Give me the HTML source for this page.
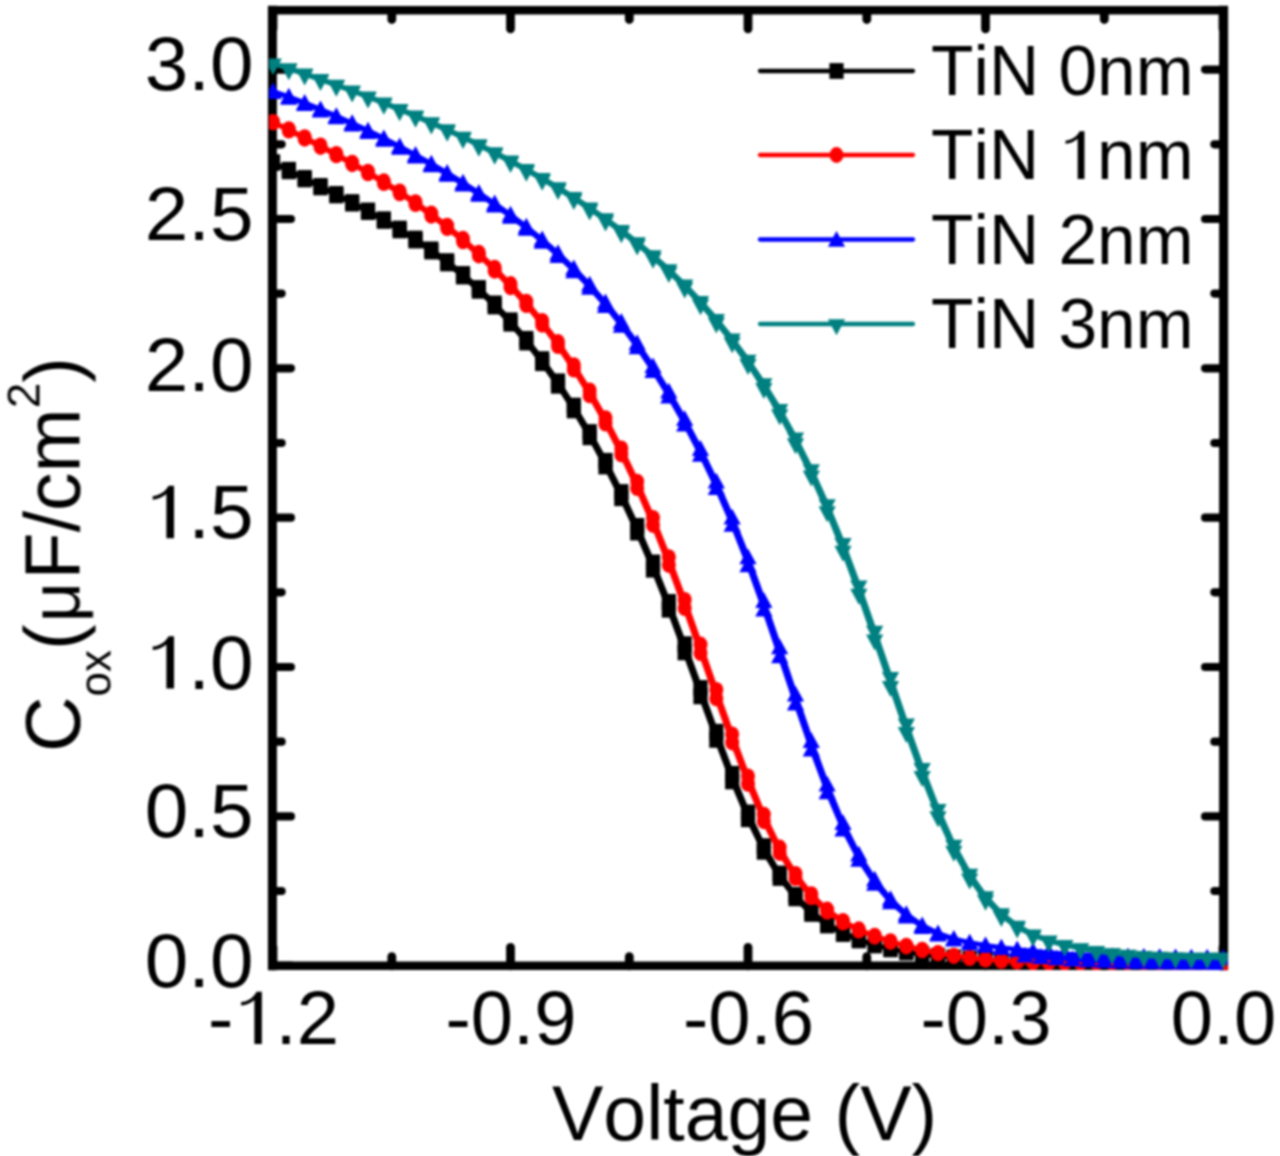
<!DOCTYPE html>
<html><head><meta charset="utf-8"><style>
html,body{margin:0;padding:0;background:#fff;}
svg{display:block;font-family:"Liberation Sans",sans-serif;font-kerning:none;}
text{font-kerning:none;}
</style></head><body>
<svg width="1280" height="1156" viewBox="0 0 1280 1156">
<defs><filter id="bl" x="0" y="0" width="1280" height="1156" filterUnits="userSpaceOnUse" color-interpolation-filters="sRGB"><feGaussianBlur stdDeviation="1.1"/></filter></defs>
<g filter="url(#bl)">
<rect width="1280" height="1156" fill="#fff"/>
<defs><clipPath id="cp"><rect x="269" y="6.5" width="958.5" height="963.5"/></clipPath></defs>
<g stroke="#000" stroke-linecap="square"><line x1="272.4" y1="10.3" x2="1223.6" y2="10.3" stroke-width="8.4"/><line x1="272.4" y1="965.8" x2="1223.6" y2="965.8" stroke-width="8.4"/><line x1="272.4" y1="10.3" x2="272.4" y2="965.8" stroke-width="9.0"/><line x1="1223.6" y1="10.3" x2="1223.6" y2="965.8" stroke-width="9.0"/></g>
<g stroke="#000" stroke-linecap="round"><line x1="272.4" y1="965.7" x2="290.9" y2="965.7" stroke-width="8.2"/><line x1="1223.6" y1="965.7" x2="1205.1" y2="965.7" stroke-width="8.2"/><line x1="272.4" y1="816.4" x2="290.9" y2="816.4" stroke-width="8.2"/><line x1="1223.6" y1="816.4" x2="1205.1" y2="816.4" stroke-width="8.2"/><line x1="272.4" y1="667.0" x2="290.9" y2="667.0" stroke-width="8.2"/><line x1="1223.6" y1="667.0" x2="1205.1" y2="667.0" stroke-width="8.2"/><line x1="272.4" y1="517.7" x2="290.9" y2="517.7" stroke-width="8.2"/><line x1="1223.6" y1="517.7" x2="1205.1" y2="517.7" stroke-width="8.2"/><line x1="272.4" y1="368.3" x2="290.9" y2="368.3" stroke-width="8.2"/><line x1="1223.6" y1="368.3" x2="1205.1" y2="368.3" stroke-width="8.2"/><line x1="272.4" y1="219.0" x2="290.9" y2="219.0" stroke-width="8.2"/><line x1="1223.6" y1="219.0" x2="1205.1" y2="219.0" stroke-width="8.2"/><line x1="272.4" y1="69.6" x2="290.9" y2="69.6" stroke-width="8.2"/><line x1="1223.6" y1="69.6" x2="1205.1" y2="69.6" stroke-width="8.2"/><line x1="272.4" y1="891.0" x2="281.6" y2="891.0" stroke-width="8.2"/><line x1="1223.6" y1="891.0" x2="1214.4" y2="891.0" stroke-width="8.2"/><line x1="272.4" y1="741.7" x2="281.6" y2="741.7" stroke-width="8.2"/><line x1="1223.6" y1="741.7" x2="1214.4" y2="741.7" stroke-width="8.2"/><line x1="272.4" y1="592.3" x2="281.6" y2="592.3" stroke-width="8.2"/><line x1="1223.6" y1="592.3" x2="1214.4" y2="592.3" stroke-width="8.2"/><line x1="272.4" y1="443.0" x2="281.6" y2="443.0" stroke-width="8.2"/><line x1="1223.6" y1="443.0" x2="1214.4" y2="443.0" stroke-width="8.2"/><line x1="272.4" y1="293.6" x2="281.6" y2="293.6" stroke-width="8.2"/><line x1="1223.6" y1="293.6" x2="1214.4" y2="293.6" stroke-width="8.2"/><line x1="272.4" y1="144.3" x2="281.6" y2="144.3" stroke-width="8.2"/><line x1="1223.6" y1="144.3" x2="1214.4" y2="144.3" stroke-width="8.2"/><line x1="273.0" y1="965.8" x2="273.0" y2="947.3" stroke-width="8.8"/><line x1="273.0" y1="10.3" x2="273.0" y2="28.8" stroke-width="8.8"/><line x1="510.5" y1="965.8" x2="510.5" y2="947.3" stroke-width="8.8"/><line x1="510.5" y1="10.3" x2="510.5" y2="28.8" stroke-width="8.8"/><line x1="748.0" y1="965.8" x2="748.0" y2="947.3" stroke-width="8.8"/><line x1="748.0" y1="10.3" x2="748.0" y2="28.8" stroke-width="8.8"/><line x1="985.5" y1="965.8" x2="985.5" y2="947.3" stroke-width="8.8"/><line x1="985.5" y1="10.3" x2="985.5" y2="28.8" stroke-width="8.8"/><line x1="1223.0" y1="965.8" x2="1223.0" y2="947.3" stroke-width="8.8"/><line x1="1223.0" y1="10.3" x2="1223.0" y2="28.8" stroke-width="8.8"/><line x1="391.8" y1="965.8" x2="391.8" y2="956.6" stroke-width="8.8"/><line x1="391.8" y1="10.3" x2="391.8" y2="19.5" stroke-width="8.8"/><line x1="629.3" y1="965.8" x2="629.3" y2="956.6" stroke-width="8.8"/><line x1="629.3" y1="10.3" x2="629.3" y2="19.5" stroke-width="8.8"/><line x1="866.8" y1="965.8" x2="866.8" y2="956.6" stroke-width="8.8"/><line x1="866.8" y1="10.3" x2="866.8" y2="19.5" stroke-width="8.8"/><line x1="1104.3" y1="965.8" x2="1104.3" y2="956.6" stroke-width="8.8"/><line x1="1104.3" y1="10.3" x2="1104.3" y2="19.5" stroke-width="8.8"/></g>
<g><text transform="translate(144.68,986.70) scale(1.03,1)" font-size="76" >0.0</text><text transform="translate(144.68,837.35) scale(1.03,1)" font-size="76" >0.5</text><text transform="translate(144.68,688.50) scale(1.03,1)" font-size="76" > .0</text><path transform="translate(144.68,0) scale(1.03,1) translate(-144.68,0)" d="M165.76 688.50L165.76 644.38C162.49 647.31 157.67 649.54 152.47 649.98L152.47 646.60C159.52 645.82 164.72 642.11 167.91 636.21L173.18 636.21L173.18 688.50Z"/><text transform="translate(144.68,538.15) scale(1.03,1)" font-size="76" > .5</text><path transform="translate(144.68,0) scale(1.03,1) translate(-144.68,0)" d="M165.76 538.15L165.76 494.03C162.49 496.96 157.67 499.19 152.47 499.63L152.47 496.25C159.52 495.47 164.72 491.76 167.91 485.86L173.18 485.86L173.18 538.15Z"/><text transform="translate(144.68,390.80) scale(1.03,1)" font-size="76" >2.0</text><text transform="translate(144.68,240.45) scale(1.03,1)" font-size="76" >2.5</text><text transform="translate(144.68,89.60) scale(1.03,1)" font-size="76" >3.0</text><text x="208.02" y="1044.00" font-size="76" >- .2</text><path d="M254.41 1044.00L254.41 999.88C251.14 1002.81 246.32 1005.04 241.12 1005.48L241.12 1002.10C248.17 1001.32 253.37 997.61 256.56 991.71L261.83 991.71L261.83 1044.00Z"/><text x="445.52" y="1044.00" font-size="76" >-0.9</text><text x="683.02" y="1044.00" font-size="76" >-0.6</text><text x="920.52" y="1044.00" font-size="76" >-0.3</text><text x="1170.68" y="1044.00" font-size="76" >0.0</text></g>
<g clip-path="url(#cp)">
<polyline points="273.00,162.14 288.83,169.76 304.67,177.91 320.50,185.92 336.33,193.92 352.17,202.05 368.00,210.44 383.83,219.23 399.67,228.56 415.50,238.56 431.33,249.37 447.17,261.12 463.00,273.95 478.83,288.00 494.67,303.41 510.50,320.30 526.33,338.83 542.17,359.12 558.00,381.33 573.83,405.58 589.67,432.02 605.50,460.79 621.33,492.02 637.17,525.86 653.00,562.44 668.83,601.90 684.67,644.17 700.50,687.99 716.33,731.73 732.17,773.76 748.00,812.43 763.83,846.11 779.67,873.49 795.50,894.91 811.33,911.29 827.17,923.55 843.00,932.59 858.83,939.33 874.67,944.59 890.50,948.72 906.33,951.89 922.17,954.29 938.00,956.10 953.83,957.51 969.67,958.68 985.50,959.66 1001.33,960.46 1017.17,961.12 1033.00,961.63 1048.83,962.03 1064.66,962.33 1080.50,962.54 1096.33,962.68 1112.16,962.77 1128.00,962.83 1143.83,962.88 1159.66,962.93 1175.50,962.99 1191.33,963.09 1207.16,963.25 1223.00,963.48" fill="none" stroke="#000000" stroke-width="4.3" stroke-linejoin="round"/>
<polyline points="273.00,162.95 288.83,171.32 304.67,179.44 320.50,187.43 336.33,195.45 352.17,203.61 368.00,212.07 383.83,220.95 399.67,230.40 415.50,240.54 431.33,251.52 447.17,263.46 463.00,276.52 478.83,290.81 494.67,306.49 510.50,323.68 526.33,342.53 542.17,363.18 558.00,385.76 573.83,410.42 589.67,437.29 605.50,466.51 621.33,498.23 637.17,532.57 653.00,569.69 668.83,609.72 684.67,652.40 700.50,696.34 716.33,739.88 732.17,781.39 748.00,819.24 763.83,851.80 779.67,877.98 795.50,898.37 811.33,913.91 827.17,925.48 843.00,934.02 858.83,940.42 874.67,945.46 890.50,949.39 906.33,952.40 922.17,954.67 938.00,956.40 953.83,957.75 969.67,958.88 985.50,959.82 1001.33,960.60 1017.17,961.22 1033.00,961.72 1048.83,962.09 1064.66,962.37 1080.50,962.57 1096.33,962.70 1112.16,962.79 1128.00,962.84 1143.83,962.89 1159.66,962.94 1175.50,963.01 1191.33,963.12 1207.16,963.29 1223.00,963.50" fill="none" stroke="#000000" stroke-width="4.3" stroke-linejoin="round"/>
<g fill="#000000"><rect x="265.90" y="154.24" width="14.20" height="15.80"/><rect x="281.73" y="161.86" width="14.20" height="15.80"/><rect x="297.57" y="170.01" width="14.20" height="15.80"/><rect x="313.40" y="178.02" width="14.20" height="15.80"/><rect x="329.23" y="186.02" width="14.20" height="15.80"/><rect x="345.07" y="194.15" width="14.20" height="15.80"/><rect x="360.90" y="202.54" width="14.20" height="15.80"/><rect x="376.73" y="211.33" width="14.20" height="15.80"/><rect x="392.57" y="220.66" width="14.20" height="15.80"/><rect x="408.40" y="230.66" width="14.20" height="15.80"/><rect x="424.23" y="241.47" width="14.20" height="15.80"/><rect x="440.07" y="253.22" width="14.20" height="15.80"/><rect x="455.90" y="266.05" width="14.20" height="15.80"/><rect x="471.73" y="280.10" width="14.20" height="15.80"/><rect x="487.57" y="295.51" width="14.20" height="15.80"/><rect x="503.40" y="312.40" width="14.20" height="15.80"/><rect x="519.23" y="330.93" width="14.20" height="15.80"/><rect x="535.07" y="351.22" width="14.20" height="15.80"/><rect x="550.90" y="373.43" width="14.20" height="15.80"/><rect x="566.73" y="397.68" width="14.20" height="15.80"/><rect x="582.57" y="424.12" width="14.20" height="15.80"/><rect x="598.40" y="452.89" width="14.20" height="15.80"/><rect x="614.23" y="484.12" width="14.20" height="15.80"/><rect x="630.07" y="517.96" width="14.20" height="15.80"/><rect x="645.90" y="554.54" width="14.20" height="15.80"/><rect x="661.73" y="594.00" width="14.20" height="15.80"/><rect x="677.57" y="636.27" width="14.20" height="15.80"/><rect x="693.40" y="680.09" width="14.20" height="15.80"/><rect x="709.23" y="723.83" width="14.20" height="15.80"/><rect x="725.07" y="765.86" width="14.20" height="15.80"/><rect x="740.90" y="804.53" width="14.20" height="15.80"/><rect x="756.73" y="838.21" width="14.20" height="15.80"/><rect x="772.57" y="865.59" width="14.20" height="15.80"/><rect x="788.40" y="887.01" width="14.20" height="15.80"/><rect x="804.23" y="903.39" width="14.20" height="15.80"/><rect x="820.07" y="915.65" width="14.20" height="15.80"/><rect x="835.90" y="924.69" width="14.20" height="15.80"/><rect x="851.73" y="931.43" width="14.20" height="15.80"/><rect x="867.57" y="936.69" width="14.20" height="15.80"/><rect x="883.40" y="940.82" width="14.20" height="15.80"/><rect x="899.23" y="943.99" width="14.20" height="15.80"/><rect x="915.07" y="946.39" width="14.20" height="15.80"/><rect x="930.90" y="948.20" width="14.20" height="15.80"/><rect x="946.73" y="949.61" width="14.20" height="15.80"/><rect x="962.57" y="950.78" width="14.20" height="15.80"/><rect x="978.40" y="951.76" width="14.20" height="15.80"/><rect x="994.23" y="952.56" width="14.20" height="15.80"/><rect x="1010.07" y="953.22" width="14.20" height="15.80"/><rect x="1025.90" y="953.73" width="14.20" height="15.80"/><rect x="1041.73" y="954.13" width="14.20" height="15.80"/><rect x="1057.57" y="954.43" width="14.20" height="15.80"/><rect x="1073.40" y="954.64" width="14.20" height="15.80"/><rect x="1089.23" y="954.78" width="14.20" height="15.80"/><rect x="1105.06" y="954.87" width="14.20" height="15.80"/><rect x="1120.90" y="954.93" width="14.20" height="15.80"/><rect x="1136.73" y="954.98" width="14.20" height="15.80"/><rect x="1152.56" y="955.03" width="14.20" height="15.80"/><rect x="1168.40" y="955.09" width="14.20" height="15.80"/><rect x="1184.23" y="955.19" width="14.20" height="15.80"/><rect x="1200.06" y="955.35" width="14.20" height="15.80"/><rect x="1215.90" y="955.58" width="14.20" height="15.80"/></g>
<g fill="#000000"><rect x="265.90" y="155.05" width="14.20" height="15.80"/><rect x="281.73" y="163.42" width="14.20" height="15.80"/><rect x="297.57" y="171.54" width="14.20" height="15.80"/><rect x="313.40" y="179.53" width="14.20" height="15.80"/><rect x="329.23" y="187.55" width="14.20" height="15.80"/><rect x="345.07" y="195.71" width="14.20" height="15.80"/><rect x="360.90" y="204.17" width="14.20" height="15.80"/><rect x="376.73" y="213.05" width="14.20" height="15.80"/><rect x="392.57" y="222.50" width="14.20" height="15.80"/><rect x="408.40" y="232.64" width="14.20" height="15.80"/><rect x="424.23" y="243.62" width="14.20" height="15.80"/><rect x="440.07" y="255.56" width="14.20" height="15.80"/><rect x="455.90" y="268.62" width="14.20" height="15.80"/><rect x="471.73" y="282.91" width="14.20" height="15.80"/><rect x="487.57" y="298.59" width="14.20" height="15.80"/><rect x="503.40" y="315.78" width="14.20" height="15.80"/><rect x="519.23" y="334.63" width="14.20" height="15.80"/><rect x="535.07" y="355.28" width="14.20" height="15.80"/><rect x="550.90" y="377.86" width="14.20" height="15.80"/><rect x="566.73" y="402.52" width="14.20" height="15.80"/><rect x="582.57" y="429.39" width="14.20" height="15.80"/><rect x="598.40" y="458.61" width="14.20" height="15.80"/><rect x="614.23" y="490.33" width="14.20" height="15.80"/><rect x="630.07" y="524.67" width="14.20" height="15.80"/><rect x="645.90" y="561.79" width="14.20" height="15.80"/><rect x="661.73" y="601.82" width="14.20" height="15.80"/><rect x="677.57" y="644.50" width="14.20" height="15.80"/><rect x="693.40" y="688.44" width="14.20" height="15.80"/><rect x="709.23" y="731.98" width="14.20" height="15.80"/><rect x="725.07" y="773.49" width="14.20" height="15.80"/><rect x="740.90" y="811.34" width="14.20" height="15.80"/><rect x="756.73" y="843.90" width="14.20" height="15.80"/><rect x="772.57" y="870.08" width="14.20" height="15.80"/><rect x="788.40" y="890.47" width="14.20" height="15.80"/><rect x="804.23" y="906.01" width="14.20" height="15.80"/><rect x="820.07" y="917.58" width="14.20" height="15.80"/><rect x="835.90" y="926.12" width="14.20" height="15.80"/><rect x="851.73" y="932.52" width="14.20" height="15.80"/><rect x="867.57" y="937.56" width="14.20" height="15.80"/><rect x="883.40" y="941.49" width="14.20" height="15.80"/><rect x="899.23" y="944.50" width="14.20" height="15.80"/><rect x="915.07" y="946.77" width="14.20" height="15.80"/><rect x="930.90" y="948.50" width="14.20" height="15.80"/><rect x="946.73" y="949.85" width="14.20" height="15.80"/><rect x="962.57" y="950.98" width="14.20" height="15.80"/><rect x="978.40" y="951.92" width="14.20" height="15.80"/><rect x="994.23" y="952.70" width="14.20" height="15.80"/><rect x="1010.07" y="953.32" width="14.20" height="15.80"/><rect x="1025.90" y="953.82" width="14.20" height="15.80"/><rect x="1041.73" y="954.19" width="14.20" height="15.80"/><rect x="1057.57" y="954.47" width="14.20" height="15.80"/><rect x="1073.40" y="954.67" width="14.20" height="15.80"/><rect x="1089.23" y="954.80" width="14.20" height="15.80"/><rect x="1105.06" y="954.89" width="14.20" height="15.80"/><rect x="1120.90" y="954.94" width="14.20" height="15.80"/><rect x="1136.73" y="954.99" width="14.20" height="15.80"/><rect x="1152.56" y="955.04" width="14.20" height="15.80"/><rect x="1168.40" y="955.11" width="14.20" height="15.80"/><rect x="1184.23" y="955.22" width="14.20" height="15.80"/><rect x="1200.06" y="955.39" width="14.20" height="15.80"/><rect x="1215.90" y="955.60" width="14.20" height="15.80"/></g>
<polyline points="273.00,121.85 288.83,129.11 304.67,137.19 320.50,145.41 336.33,153.84 352.17,162.57 368.00,171.68 383.83,181.24 399.67,191.34 415.50,202.07 431.33,213.49 447.17,225.68 463.00,238.74 478.83,252.74 494.67,267.77 510.50,284.01 526.33,301.65 542.17,320.92 558.00,341.99 573.83,365.08 589.67,390.38 605.50,418.10 621.33,448.44 637.17,481.60 653.00,517.78 668.83,557.19 684.67,599.80 700.50,644.52 716.33,689.84 732.17,734.29 748.00,776.37 763.83,814.60 779.67,847.49 795.50,873.86 811.33,894.19 827.17,909.51 843.00,920.85 858.83,929.22 874.67,935.65 890.50,941.05 906.33,945.69 922.17,949.62 938.00,952.90 953.83,955.59 969.67,957.74 985.50,959.40 1001.33,960.65 1017.17,961.53 1033.00,962.09 1048.83,962.40 1064.66,962.51 1080.50,962.48 1096.33,962.37 1112.16,962.22 1128.00,962.10 1143.83,962.07 1159.66,962.18 1175.50,962.48 1191.33,963.04 1207.16,963.90 1223.00,965.14" fill="none" stroke="#ff0000" stroke-width="4.3" stroke-linejoin="round"/>
<polyline points="273.00,122.61 288.83,130.64 304.67,138.73 320.50,146.98 336.33,155.47 352.17,164.26 368.00,173.45 383.83,183.11 399.67,193.33 415.50,204.17 431.33,215.73 447.17,228.09 463.00,241.32 478.83,255.50 494.67,270.74 510.50,287.24 526.33,305.17 542.17,324.76 558.00,346.20 573.83,369.70 589.67,395.44 605.50,423.65 621.33,454.50 637.17,488.22 653.00,525.00 668.83,565.03 684.67,608.16 700.50,653.11 716.33,698.38 732.17,742.49 748.00,783.95 763.83,821.28 779.67,852.99 795.50,878.14 811.33,897.45 827.17,911.94 843.00,922.63 858.83,930.55 874.67,936.73 890.50,941.98 906.33,946.48 922.17,950.29 938.00,953.45 953.83,956.03 969.67,958.09 985.50,959.67 1001.33,960.84 1017.17,961.65 1033.00,962.17 1048.83,962.44 1064.66,962.52 1080.50,962.47 1096.33,962.34 1112.16,962.20 1128.00,962.09 1143.83,962.08 1159.66,962.22 1175.50,962.57 1191.33,963.18 1207.16,964.11 1223.00,965.28" fill="none" stroke="#ff0000" stroke-width="4.3" stroke-linejoin="round"/>
<g fill="#ff0000"><ellipse cx="273.00" cy="121.85" rx="7.0" ry="7.9"/><ellipse cx="288.83" cy="129.11" rx="7.0" ry="7.9"/><ellipse cx="304.67" cy="137.19" rx="7.0" ry="7.9"/><ellipse cx="320.50" cy="145.41" rx="7.0" ry="7.9"/><ellipse cx="336.33" cy="153.84" rx="7.0" ry="7.9"/><ellipse cx="352.17" cy="162.57" rx="7.0" ry="7.9"/><ellipse cx="368.00" cy="171.68" rx="7.0" ry="7.9"/><ellipse cx="383.83" cy="181.24" rx="7.0" ry="7.9"/><ellipse cx="399.67" cy="191.34" rx="7.0" ry="7.9"/><ellipse cx="415.50" cy="202.07" rx="7.0" ry="7.9"/><ellipse cx="431.33" cy="213.49" rx="7.0" ry="7.9"/><ellipse cx="447.17" cy="225.68" rx="7.0" ry="7.9"/><ellipse cx="463.00" cy="238.74" rx="7.0" ry="7.9"/><ellipse cx="478.83" cy="252.74" rx="7.0" ry="7.9"/><ellipse cx="494.67" cy="267.77" rx="7.0" ry="7.9"/><ellipse cx="510.50" cy="284.01" rx="7.0" ry="7.9"/><ellipse cx="526.33" cy="301.65" rx="7.0" ry="7.9"/><ellipse cx="542.17" cy="320.92" rx="7.0" ry="7.9"/><ellipse cx="558.00" cy="341.99" rx="7.0" ry="7.9"/><ellipse cx="573.83" cy="365.08" rx="7.0" ry="7.9"/><ellipse cx="589.67" cy="390.38" rx="7.0" ry="7.9"/><ellipse cx="605.50" cy="418.10" rx="7.0" ry="7.9"/><ellipse cx="621.33" cy="448.44" rx="7.0" ry="7.9"/><ellipse cx="637.17" cy="481.60" rx="7.0" ry="7.9"/><ellipse cx="653.00" cy="517.78" rx="7.0" ry="7.9"/><ellipse cx="668.83" cy="557.19" rx="7.0" ry="7.9"/><ellipse cx="684.67" cy="599.80" rx="7.0" ry="7.9"/><ellipse cx="700.50" cy="644.52" rx="7.0" ry="7.9"/><ellipse cx="716.33" cy="689.84" rx="7.0" ry="7.9"/><ellipse cx="732.17" cy="734.29" rx="7.0" ry="7.9"/><ellipse cx="748.00" cy="776.37" rx="7.0" ry="7.9"/><ellipse cx="763.83" cy="814.60" rx="7.0" ry="7.9"/><ellipse cx="779.67" cy="847.49" rx="7.0" ry="7.9"/><ellipse cx="795.50" cy="873.86" rx="7.0" ry="7.9"/><ellipse cx="811.33" cy="894.19" rx="7.0" ry="7.9"/><ellipse cx="827.17" cy="909.51" rx="7.0" ry="7.9"/><ellipse cx="843.00" cy="920.85" rx="7.0" ry="7.9"/><ellipse cx="858.83" cy="929.22" rx="7.0" ry="7.9"/><ellipse cx="874.67" cy="935.65" rx="7.0" ry="7.9"/><ellipse cx="890.50" cy="941.05" rx="7.0" ry="7.9"/><ellipse cx="906.33" cy="945.69" rx="7.0" ry="7.9"/><ellipse cx="922.17" cy="949.62" rx="7.0" ry="7.9"/><ellipse cx="938.00" cy="952.90" rx="7.0" ry="7.9"/><ellipse cx="953.83" cy="955.59" rx="7.0" ry="7.9"/><ellipse cx="969.67" cy="957.74" rx="7.0" ry="7.9"/><ellipse cx="985.50" cy="959.40" rx="7.0" ry="7.9"/><ellipse cx="1001.33" cy="960.65" rx="7.0" ry="7.9"/><ellipse cx="1017.17" cy="961.53" rx="7.0" ry="7.9"/><ellipse cx="1033.00" cy="962.09" rx="7.0" ry="7.9"/><ellipse cx="1048.83" cy="962.40" rx="7.0" ry="7.9"/><ellipse cx="1064.66" cy="962.51" rx="7.0" ry="7.9"/><ellipse cx="1080.50" cy="962.48" rx="7.0" ry="7.9"/><ellipse cx="1096.33" cy="962.37" rx="7.0" ry="7.9"/><ellipse cx="1112.16" cy="962.22" rx="7.0" ry="7.9"/><ellipse cx="1128.00" cy="962.10" rx="7.0" ry="7.9"/><ellipse cx="1143.83" cy="962.07" rx="7.0" ry="7.9"/><ellipse cx="1159.66" cy="962.18" rx="7.0" ry="7.9"/><ellipse cx="1175.50" cy="962.48" rx="7.0" ry="7.9"/><ellipse cx="1191.33" cy="963.04" rx="7.0" ry="7.9"/><ellipse cx="1207.16" cy="963.90" rx="7.0" ry="7.9"/><ellipse cx="1223.00" cy="965.14" rx="7.0" ry="7.9"/></g>
<g fill="#ff0000"><ellipse cx="273.00" cy="122.61" rx="7.0" ry="7.9"/><ellipse cx="288.83" cy="130.64" rx="7.0" ry="7.9"/><ellipse cx="304.67" cy="138.73" rx="7.0" ry="7.9"/><ellipse cx="320.50" cy="146.98" rx="7.0" ry="7.9"/><ellipse cx="336.33" cy="155.47" rx="7.0" ry="7.9"/><ellipse cx="352.17" cy="164.26" rx="7.0" ry="7.9"/><ellipse cx="368.00" cy="173.45" rx="7.0" ry="7.9"/><ellipse cx="383.83" cy="183.11" rx="7.0" ry="7.9"/><ellipse cx="399.67" cy="193.33" rx="7.0" ry="7.9"/><ellipse cx="415.50" cy="204.17" rx="7.0" ry="7.9"/><ellipse cx="431.33" cy="215.73" rx="7.0" ry="7.9"/><ellipse cx="447.17" cy="228.09" rx="7.0" ry="7.9"/><ellipse cx="463.00" cy="241.32" rx="7.0" ry="7.9"/><ellipse cx="478.83" cy="255.50" rx="7.0" ry="7.9"/><ellipse cx="494.67" cy="270.74" rx="7.0" ry="7.9"/><ellipse cx="510.50" cy="287.24" rx="7.0" ry="7.9"/><ellipse cx="526.33" cy="305.17" rx="7.0" ry="7.9"/><ellipse cx="542.17" cy="324.76" rx="7.0" ry="7.9"/><ellipse cx="558.00" cy="346.20" rx="7.0" ry="7.9"/><ellipse cx="573.83" cy="369.70" rx="7.0" ry="7.9"/><ellipse cx="589.67" cy="395.44" rx="7.0" ry="7.9"/><ellipse cx="605.50" cy="423.65" rx="7.0" ry="7.9"/><ellipse cx="621.33" cy="454.50" rx="7.0" ry="7.9"/><ellipse cx="637.17" cy="488.22" rx="7.0" ry="7.9"/><ellipse cx="653.00" cy="525.00" rx="7.0" ry="7.9"/><ellipse cx="668.83" cy="565.03" rx="7.0" ry="7.9"/><ellipse cx="684.67" cy="608.16" rx="7.0" ry="7.9"/><ellipse cx="700.50" cy="653.11" rx="7.0" ry="7.9"/><ellipse cx="716.33" cy="698.38" rx="7.0" ry="7.9"/><ellipse cx="732.17" cy="742.49" rx="7.0" ry="7.9"/><ellipse cx="748.00" cy="783.95" rx="7.0" ry="7.9"/><ellipse cx="763.83" cy="821.28" rx="7.0" ry="7.9"/><ellipse cx="779.67" cy="852.99" rx="7.0" ry="7.9"/><ellipse cx="795.50" cy="878.14" rx="7.0" ry="7.9"/><ellipse cx="811.33" cy="897.45" rx="7.0" ry="7.9"/><ellipse cx="827.17" cy="911.94" rx="7.0" ry="7.9"/><ellipse cx="843.00" cy="922.63" rx="7.0" ry="7.9"/><ellipse cx="858.83" cy="930.55" rx="7.0" ry="7.9"/><ellipse cx="874.67" cy="936.73" rx="7.0" ry="7.9"/><ellipse cx="890.50" cy="941.98" rx="7.0" ry="7.9"/><ellipse cx="906.33" cy="946.48" rx="7.0" ry="7.9"/><ellipse cx="922.17" cy="950.29" rx="7.0" ry="7.9"/><ellipse cx="938.00" cy="953.45" rx="7.0" ry="7.9"/><ellipse cx="953.83" cy="956.03" rx="7.0" ry="7.9"/><ellipse cx="969.67" cy="958.09" rx="7.0" ry="7.9"/><ellipse cx="985.50" cy="959.67" rx="7.0" ry="7.9"/><ellipse cx="1001.33" cy="960.84" rx="7.0" ry="7.9"/><ellipse cx="1017.17" cy="961.65" rx="7.0" ry="7.9"/><ellipse cx="1033.00" cy="962.17" rx="7.0" ry="7.9"/><ellipse cx="1048.83" cy="962.44" rx="7.0" ry="7.9"/><ellipse cx="1064.66" cy="962.52" rx="7.0" ry="7.9"/><ellipse cx="1080.50" cy="962.47" rx="7.0" ry="7.9"/><ellipse cx="1096.33" cy="962.34" rx="7.0" ry="7.9"/><ellipse cx="1112.16" cy="962.20" rx="7.0" ry="7.9"/><ellipse cx="1128.00" cy="962.09" rx="7.0" ry="7.9"/><ellipse cx="1143.83" cy="962.08" rx="7.0" ry="7.9"/><ellipse cx="1159.66" cy="962.22" rx="7.0" ry="7.9"/><ellipse cx="1175.50" cy="962.57" rx="7.0" ry="7.9"/><ellipse cx="1191.33" cy="963.18" rx="7.0" ry="7.9"/><ellipse cx="1207.16" cy="964.11" rx="7.0" ry="7.9"/><ellipse cx="1223.00" cy="965.28" rx="7.0" ry="7.9"/></g>
<polyline points="273.00,91.14 288.83,96.46 304.67,102.61 320.50,109.05 336.33,115.79 352.17,122.85 368.00,130.24 383.83,137.98 399.67,146.09 415.50,154.57 431.33,163.44 447.17,172.72 463.00,182.43 478.83,192.57 494.67,203.18 510.50,214.37 526.33,226.30 542.17,239.12 558.00,252.97 573.83,268.00 589.67,284.37 605.50,302.21 621.33,321.68 637.17,342.93 653.00,366.10 668.83,391.34 684.67,418.81 700.50,448.68 716.33,481.37 732.17,517.33 748.00,557.05 763.83,600.71 779.67,647.06 795.50,694.36 811.33,740.81 827.17,784.35 843.00,822.79 858.83,854.38 874.67,879.41 890.50,898.92 906.33,913.85 922.17,924.98 938.00,932.98 953.83,938.55 969.67,942.35 985.50,945.08 1001.33,947.35 1017.17,949.31 1033.00,950.99 1048.83,952.41 1064.66,953.60 1080.50,954.58 1096.33,955.38 1112.16,956.02 1128.00,956.51 1143.83,956.89 1159.66,957.18 1175.50,957.40 1191.33,957.57 1207.16,957.72 1223.00,957.87" fill="none" stroke="#0000ff" stroke-width="4.3" stroke-linejoin="round"/>
<polyline points="273.00,91.68 288.83,97.61 304.67,103.81 320.50,110.30 336.33,117.10 352.17,124.22 368.00,131.68 383.83,139.49 399.67,147.66 415.50,156.22 431.33,165.17 447.17,174.53 463.00,184.31 478.83,194.54 494.67,205.25 510.50,216.57 526.33,228.66 542.17,241.66 558.00,255.73 573.83,271.00 589.67,287.63 605.50,305.77 621.33,325.56 637.17,347.16 653.00,370.72 668.83,396.37 684.67,424.27 700.50,454.64 716.33,487.92 732.17,524.56 748.00,565.03 763.83,609.34 779.67,656.00 795.50,703.28 811.33,749.35 827.17,792.09 843.00,829.33 858.83,859.59 874.67,883.50 890.50,902.07 906.33,916.23 922.17,926.72 938.00,934.20 953.83,939.38 969.67,942.93 985.50,945.54 1001.33,947.74 1017.17,949.64 1033.00,951.27 1048.83,952.65 1064.66,953.80 1080.50,954.75 1096.33,955.51 1112.16,956.12 1128.00,956.59 1143.83,956.95 1159.66,957.22 1175.50,957.43 1191.33,957.60 1207.16,957.75 1223.00,957.89" fill="none" stroke="#0000ff" stroke-width="4.3" stroke-linejoin="round"/>
<g fill="#0000ff"><path d="M273.00 82.54L281.60 98.34L264.40 98.34Z"/><path d="M288.83 87.86L297.43 103.66L280.23 103.66Z"/><path d="M304.67 94.01L313.27 109.81L296.07 109.81Z"/><path d="M320.50 100.45L329.10 116.25L311.90 116.25Z"/><path d="M336.33 107.19L344.93 122.99L327.73 122.99Z"/><path d="M352.17 114.25L360.77 130.05L343.57 130.05Z"/><path d="M368.00 121.64L376.60 137.44L359.40 137.44Z"/><path d="M383.83 129.38L392.43 145.18L375.23 145.18Z"/><path d="M399.67 137.49L408.27 153.29L391.07 153.29Z"/><path d="M415.50 145.97L424.10 161.77L406.90 161.77Z"/><path d="M431.33 154.84L439.93 170.64L422.73 170.64Z"/><path d="M447.17 164.12L455.77 179.92L438.57 179.92Z"/><path d="M463.00 173.83L471.60 189.63L454.40 189.63Z"/><path d="M478.83 183.97L487.43 199.77L470.23 199.77Z"/><path d="M494.67 194.58L503.27 210.38L486.07 210.38Z"/><path d="M510.50 205.77L519.10 221.57L501.90 221.57Z"/><path d="M526.33 217.70L534.93 233.50L517.73 233.50Z"/><path d="M542.17 230.52L550.77 246.32L533.57 246.32Z"/><path d="M558.00 244.37L566.60 260.17L549.40 260.17Z"/><path d="M573.83 259.40L582.43 275.20L565.23 275.20Z"/><path d="M589.67 275.77L598.27 291.57L581.07 291.57Z"/><path d="M605.50 293.61L614.10 309.41L596.90 309.41Z"/><path d="M621.33 313.08L629.93 328.88L612.73 328.88Z"/><path d="M637.17 334.33L645.77 350.13L628.57 350.13Z"/><path d="M653.00 357.50L661.60 373.30L644.40 373.30Z"/><path d="M668.83 382.74L677.43 398.54L660.23 398.54Z"/><path d="M684.67 410.21L693.27 426.01L676.07 426.01Z"/><path d="M700.50 440.08L709.10 455.88L691.90 455.88Z"/><path d="M716.33 472.77L724.93 488.57L707.73 488.57Z"/><path d="M732.17 508.73L740.77 524.53L723.57 524.53Z"/><path d="M748.00 548.45L756.60 564.25L739.40 564.25Z"/><path d="M763.83 592.11L772.43 607.91L755.23 607.91Z"/><path d="M779.67 638.46L788.27 654.26L771.07 654.26Z"/><path d="M795.50 685.76L804.10 701.56L786.90 701.56Z"/><path d="M811.33 732.21L819.93 748.01L802.73 748.01Z"/><path d="M827.17 775.75L835.77 791.55L818.57 791.55Z"/><path d="M843.00 814.19L851.60 829.99L834.40 829.99Z"/><path d="M858.83 845.78L867.43 861.58L850.23 861.58Z"/><path d="M874.67 870.81L883.27 886.61L866.07 886.61Z"/><path d="M890.50 890.32L899.10 906.12L881.90 906.12Z"/><path d="M906.33 905.25L914.93 921.05L897.73 921.05Z"/><path d="M922.17 916.38L930.77 932.18L913.57 932.18Z"/><path d="M938.00 924.38L946.60 940.18L929.40 940.18Z"/><path d="M953.83 929.95L962.43 945.75L945.23 945.75Z"/><path d="M969.67 933.75L978.27 949.55L961.07 949.55Z"/><path d="M985.50 936.48L994.10 952.28L976.90 952.28Z"/><path d="M1001.33 938.75L1009.93 954.55L992.73 954.55Z"/><path d="M1017.17 940.71L1025.77 956.51L1008.57 956.51Z"/><path d="M1033.00 942.39L1041.60 958.19L1024.40 958.19Z"/><path d="M1048.83 943.81L1057.43 959.61L1040.23 959.61Z"/><path d="M1064.66 945.00L1073.26 960.80L1056.07 960.80Z"/><path d="M1080.50 945.98L1089.10 961.78L1071.90 961.78Z"/><path d="M1096.33 946.78L1104.93 962.58L1087.73 962.58Z"/><path d="M1112.16 947.42L1120.76 963.22L1103.56 963.22Z"/><path d="M1128.00 947.91L1136.60 963.71L1119.40 963.71Z"/><path d="M1143.83 948.29L1152.43 964.09L1135.23 964.09Z"/><path d="M1159.66 948.58L1168.26 964.38L1151.06 964.38Z"/><path d="M1175.50 948.80L1184.10 964.60L1166.90 964.60Z"/><path d="M1191.33 948.97L1199.93 964.77L1182.73 964.77Z"/><path d="M1207.16 949.12L1215.76 964.92L1198.56 964.92Z"/><path d="M1223.00 949.27L1231.60 965.07L1214.40 965.07Z"/></g>
<g fill="#0000ff"><path d="M273.00 83.08L281.60 98.88L264.40 98.88Z"/><path d="M288.83 89.01L297.43 104.81L280.23 104.81Z"/><path d="M304.67 95.21L313.27 111.01L296.07 111.01Z"/><path d="M320.50 101.70L329.10 117.50L311.90 117.50Z"/><path d="M336.33 108.50L344.93 124.30L327.73 124.30Z"/><path d="M352.17 115.62L360.77 131.42L343.57 131.42Z"/><path d="M368.00 123.08L376.60 138.88L359.40 138.88Z"/><path d="M383.83 130.89L392.43 146.69L375.23 146.69Z"/><path d="M399.67 139.06L408.27 154.86L391.07 154.86Z"/><path d="M415.50 147.62L424.10 163.42L406.90 163.42Z"/><path d="M431.33 156.57L439.93 172.37L422.73 172.37Z"/><path d="M447.17 165.93L455.77 181.73L438.57 181.73Z"/><path d="M463.00 175.71L471.60 191.51L454.40 191.51Z"/><path d="M478.83 185.94L487.43 201.74L470.23 201.74Z"/><path d="M494.67 196.65L503.27 212.45L486.07 212.45Z"/><path d="M510.50 207.97L519.10 223.77L501.90 223.77Z"/><path d="M526.33 220.06L534.93 235.86L517.73 235.86Z"/><path d="M542.17 233.06L550.77 248.86L533.57 248.86Z"/><path d="M558.00 247.13L566.60 262.93L549.40 262.93Z"/><path d="M573.83 262.40L582.43 278.20L565.23 278.20Z"/><path d="M589.67 279.03L598.27 294.83L581.07 294.83Z"/><path d="M605.50 297.17L614.10 312.97L596.90 312.97Z"/><path d="M621.33 316.96L629.93 332.76L612.73 332.76Z"/><path d="M637.17 338.56L645.77 354.36L628.57 354.36Z"/><path d="M653.00 362.12L661.60 377.92L644.40 377.92Z"/><path d="M668.83 387.77L677.43 403.57L660.23 403.57Z"/><path d="M684.67 415.67L693.27 431.47L676.07 431.47Z"/><path d="M700.50 446.04L709.10 461.84L691.90 461.84Z"/><path d="M716.33 479.32L724.93 495.12L707.73 495.12Z"/><path d="M732.17 515.96L740.77 531.76L723.57 531.76Z"/><path d="M748.00 556.43L756.60 572.23L739.40 572.23Z"/><path d="M763.83 600.74L772.43 616.54L755.23 616.54Z"/><path d="M779.67 647.40L788.27 663.20L771.07 663.20Z"/><path d="M795.50 694.68L804.10 710.48L786.90 710.48Z"/><path d="M811.33 740.75L819.93 756.55L802.73 756.55Z"/><path d="M827.17 783.49L835.77 799.29L818.57 799.29Z"/><path d="M843.00 820.73L851.60 836.53L834.40 836.53Z"/><path d="M858.83 850.99L867.43 866.79L850.23 866.79Z"/><path d="M874.67 874.90L883.27 890.70L866.07 890.70Z"/><path d="M890.50 893.47L899.10 909.27L881.90 909.27Z"/><path d="M906.33 907.63L914.93 923.43L897.73 923.43Z"/><path d="M922.17 918.12L930.77 933.92L913.57 933.92Z"/><path d="M938.00 925.60L946.60 941.40L929.40 941.40Z"/><path d="M953.83 930.78L962.43 946.58L945.23 946.58Z"/><path d="M969.67 934.33L978.27 950.13L961.07 950.13Z"/><path d="M985.50 936.94L994.10 952.74L976.90 952.74Z"/><path d="M1001.33 939.14L1009.93 954.94L992.73 954.94Z"/><path d="M1017.17 941.04L1025.77 956.84L1008.57 956.84Z"/><path d="M1033.00 942.67L1041.60 958.47L1024.40 958.47Z"/><path d="M1048.83 944.05L1057.43 959.85L1040.23 959.85Z"/><path d="M1064.66 945.20L1073.26 961.00L1056.07 961.00Z"/><path d="M1080.50 946.15L1089.10 961.95L1071.90 961.95Z"/><path d="M1096.33 946.91L1104.93 962.71L1087.73 962.71Z"/><path d="M1112.16 947.52L1120.76 963.32L1103.56 963.32Z"/><path d="M1128.00 947.99L1136.60 963.79L1119.40 963.79Z"/><path d="M1143.83 948.35L1152.43 964.15L1135.23 964.15Z"/><path d="M1159.66 948.62L1168.26 964.42L1151.06 964.42Z"/><path d="M1175.50 948.83L1184.10 964.63L1166.90 964.63Z"/><path d="M1191.33 949.00L1199.93 964.80L1182.73 964.80Z"/><path d="M1207.16 949.15L1215.76 964.95L1198.56 964.95Z"/><path d="M1223.00 949.29L1231.60 965.09L1214.40 965.09Z"/></g>
<polyline points="1025.08,955.34 1040.92,956.86 1056.75,958.15 1072.58,959.21 1088.41,960.08 1104.25,960.78 1120.08,961.33 1135.91,961.75 1151.75,962.07 1167.58,962.32 1183.41,962.50 1199.25,962.66 1215.08,962.81" fill="none" stroke="#0000ff" stroke-width="4.3" stroke-linejoin="round"/>
<g fill="#0000ff"><path d="M1025.08 946.74L1033.68 962.54L1016.48 962.54Z"/><path d="M1040.92 948.26L1049.52 964.06L1032.32 964.06Z"/><path d="M1056.75 949.55L1065.35 965.35L1048.15 965.35Z"/><path d="M1072.58 950.61L1081.18 966.41L1063.98 966.41Z"/><path d="M1088.41 951.48L1097.01 967.28L1079.81 967.28Z"/><path d="M1104.25 952.18L1112.85 967.98L1095.65 967.98Z"/><path d="M1120.08 952.73L1128.68 968.53L1111.48 968.53Z"/><path d="M1135.91 953.15L1144.51 968.95L1127.31 968.95Z"/><path d="M1151.75 953.47L1160.35 969.27L1143.15 969.27Z"/><path d="M1167.58 953.72L1176.18 969.52L1158.98 969.52Z"/><path d="M1183.41 953.90L1192.01 969.70L1174.81 969.70Z"/><path d="M1199.25 954.06L1207.85 969.86L1190.65 969.86Z"/><path d="M1215.08 954.21L1223.68 970.01L1206.48 970.01Z"/></g>
<polyline points="273.00,63.19 288.83,67.95 304.67,73.32 320.50,78.81 336.33,84.44 352.17,90.23 368.00,96.20 383.83,102.35 399.67,108.70 415.50,115.28 431.33,122.09 447.17,129.15 463.00,136.48 478.83,144.09 494.67,151.99 510.50,160.21 526.33,168.77 542.17,177.70 558.00,187.05 573.83,196.88 589.67,207.24 605.50,218.17 621.33,229.73 637.17,241.97 653.00,255.04 668.83,269.09 684.67,284.28 700.50,300.77 716.33,318.71 732.17,338.26 748.00,359.61 763.83,383.03 779.67,408.86 795.50,437.42 811.33,469.03 827.17,504.02 843.00,542.71 858.83,585.21 874.67,630.43 890.50,676.92 906.33,723.19 922.17,767.74 938.00,808.80 953.83,844.57 969.67,873.53 985.50,896.05 1001.33,913.04 1017.17,925.46 1033.00,934.25 1048.83,940.34 1064.66,944.68 1080.50,948.09 1096.33,950.85 1112.16,953.02 1128.00,954.66 1143.83,955.86 1159.66,956.67 1175.50,957.18 1191.33,957.44 1207.16,957.53 1223.00,957.52" fill="none" stroke="#008080" stroke-width="4.3" stroke-linejoin="round"/>
<polyline points="273.00,63.68 288.83,68.96 304.67,74.35 320.50,79.86 336.33,85.53 352.17,91.35 368.00,97.35 383.83,103.54 399.67,109.93 415.50,116.55 431.33,123.41 447.17,130.52 463.00,137.90 478.83,145.56 494.67,153.53 510.50,161.81 526.33,170.43 542.17,179.44 558.00,188.88 573.83,198.80 589.67,209.26 605.50,220.31 621.33,231.99 637.17,244.38 653.00,257.62 668.83,271.88 684.67,287.30 700.50,304.05 716.33,322.29 732.17,342.16 748.00,363.88 763.83,387.73 779.67,414.05 795.50,443.16 811.33,475.39 827.17,511.05 843.00,550.48 858.83,593.61 874.67,639.19 890.50,685.75 906.33,731.81 922.17,775.84 938.00,816.04 953.83,850.59 969.67,878.27 985.50,899.66 1001.33,915.72 1017.17,927.38 1033.00,935.58 1048.83,941.27 1064.66,945.38 1080.50,948.66 1096.33,951.30 1112.16,953.37 1128.00,954.92 1143.83,956.04 1159.66,956.79 1175.50,957.24 1191.33,957.47 1207.16,957.53 1223.00,957.51" fill="none" stroke="#008080" stroke-width="4.3" stroke-linejoin="round"/>
<g fill="#008080"><path d="M264.40 58.39L281.60 58.39L273.00 74.39Z"/><path d="M280.23 63.15L297.43 63.15L288.83 79.15Z"/><path d="M296.07 68.52L313.27 68.52L304.67 84.52Z"/><path d="M311.90 74.01L329.10 74.01L320.50 90.01Z"/><path d="M327.73 79.64L344.93 79.64L336.33 95.64Z"/><path d="M343.57 85.43L360.77 85.43L352.17 101.43Z"/><path d="M359.40 91.40L376.60 91.40L368.00 107.40Z"/><path d="M375.23 97.55L392.43 97.55L383.83 113.55Z"/><path d="M391.07 103.90L408.27 103.90L399.67 119.90Z"/><path d="M406.90 110.48L424.10 110.48L415.50 126.48Z"/><path d="M422.73 117.29L439.93 117.29L431.33 133.29Z"/><path d="M438.57 124.35L455.77 124.35L447.17 140.35Z"/><path d="M454.40 131.68L471.60 131.68L463.00 147.68Z"/><path d="M470.23 139.29L487.43 139.29L478.83 155.29Z"/><path d="M486.07 147.19L503.27 147.19L494.67 163.19Z"/><path d="M501.90 155.41L519.10 155.41L510.50 171.41Z"/><path d="M517.73 163.97L534.93 163.97L526.33 179.97Z"/><path d="M533.57 172.90L550.77 172.90L542.17 188.90Z"/><path d="M549.40 182.25L566.60 182.25L558.00 198.25Z"/><path d="M565.23 192.08L582.43 192.08L573.83 208.08Z"/><path d="M581.07 202.44L598.27 202.44L589.67 218.44Z"/><path d="M596.90 213.37L614.10 213.37L605.50 229.37Z"/><path d="M612.73 224.93L629.93 224.93L621.33 240.93Z"/><path d="M628.57 237.17L645.77 237.17L637.17 253.17Z"/><path d="M644.40 250.24L661.60 250.24L653.00 266.24Z"/><path d="M660.23 264.29L677.43 264.29L668.83 280.29Z"/><path d="M676.07 279.48L693.27 279.48L684.67 295.48Z"/><path d="M691.90 295.97L709.10 295.97L700.50 311.97Z"/><path d="M707.73 313.91L724.93 313.91L716.33 329.91Z"/><path d="M723.57 333.46L740.77 333.46L732.17 349.46Z"/><path d="M739.40 354.81L756.60 354.81L748.00 370.81Z"/><path d="M755.23 378.23L772.43 378.23L763.83 394.23Z"/><path d="M771.07 404.06L788.27 404.06L779.67 420.06Z"/><path d="M786.90 432.62L804.10 432.62L795.50 448.62Z"/><path d="M802.73 464.23L819.93 464.23L811.33 480.23Z"/><path d="M818.57 499.22L835.77 499.22L827.17 515.22Z"/><path d="M834.40 537.91L851.60 537.91L843.00 553.91Z"/><path d="M850.23 580.41L867.43 580.41L858.83 596.41Z"/><path d="M866.07 625.63L883.27 625.63L874.67 641.63Z"/><path d="M881.90 672.12L899.10 672.12L890.50 688.12Z"/><path d="M897.73 718.39L914.93 718.39L906.33 734.39Z"/><path d="M913.57 762.94L930.77 762.94L922.17 778.94Z"/><path d="M929.40 804.00L946.60 804.00L938.00 820.00Z"/><path d="M945.23 839.77L962.43 839.77L953.83 855.77Z"/><path d="M961.07 868.73L978.27 868.73L969.67 884.73Z"/><path d="M976.90 891.25L994.10 891.25L985.50 907.25Z"/><path d="M992.73 908.24L1009.93 908.24L1001.33 924.24Z"/><path d="M1008.57 920.66L1025.77 920.66L1017.17 936.66Z"/><path d="M1024.40 929.45L1041.60 929.45L1033.00 945.45Z"/><path d="M1040.23 935.54L1057.43 935.54L1048.83 951.54Z"/><path d="M1056.07 939.88L1073.26 939.88L1064.66 955.88Z"/><path d="M1071.90 943.29L1089.10 943.29L1080.50 959.29Z"/><path d="M1087.73 946.05L1104.93 946.05L1096.33 962.05Z"/><path d="M1103.56 948.22L1120.76 948.22L1112.16 964.22Z"/><path d="M1119.40 949.86L1136.60 949.86L1128.00 965.86Z"/><path d="M1135.23 951.06L1152.43 951.06L1143.83 967.06Z"/><path d="M1151.06 951.87L1168.26 951.87L1159.66 967.87Z"/><path d="M1166.90 952.38L1184.10 952.38L1175.50 968.38Z"/><path d="M1182.73 952.64L1199.93 952.64L1191.33 968.64Z"/><path d="M1198.56 952.73L1215.76 952.73L1207.16 968.73Z"/><path d="M1214.40 952.72L1231.60 952.72L1223.00 968.72Z"/></g>
<g fill="#008080"><path d="M264.40 58.88L281.60 58.88L273.00 74.88Z"/><path d="M280.23 64.16L297.43 64.16L288.83 80.16Z"/><path d="M296.07 69.55L313.27 69.55L304.67 85.55Z"/><path d="M311.90 75.06L329.10 75.06L320.50 91.06Z"/><path d="M327.73 80.73L344.93 80.73L336.33 96.73Z"/><path d="M343.57 86.55L360.77 86.55L352.17 102.55Z"/><path d="M359.40 92.55L376.60 92.55L368.00 108.55Z"/><path d="M375.23 98.74L392.43 98.74L383.83 114.74Z"/><path d="M391.07 105.13L408.27 105.13L399.67 121.13Z"/><path d="M406.90 111.75L424.10 111.75L415.50 127.75Z"/><path d="M422.73 118.61L439.93 118.61L431.33 134.61Z"/><path d="M438.57 125.72L455.77 125.72L447.17 141.72Z"/><path d="M454.40 133.10L471.60 133.10L463.00 149.10Z"/><path d="M470.23 140.76L487.43 140.76L478.83 156.76Z"/><path d="M486.07 148.73L503.27 148.73L494.67 164.73Z"/><path d="M501.90 157.01L519.10 157.01L510.50 173.01Z"/><path d="M517.73 165.63L534.93 165.63L526.33 181.63Z"/><path d="M533.57 174.64L550.77 174.64L542.17 190.64Z"/><path d="M549.40 184.08L566.60 184.08L558.00 200.08Z"/><path d="M565.23 194.00L582.43 194.00L573.83 210.00Z"/><path d="M581.07 204.46L598.27 204.46L589.67 220.46Z"/><path d="M596.90 215.51L614.10 215.51L605.50 231.51Z"/><path d="M612.73 227.19L629.93 227.19L621.33 243.19Z"/><path d="M628.57 239.58L645.77 239.58L637.17 255.58Z"/><path d="M644.40 252.82L661.60 252.82L653.00 268.82Z"/><path d="M660.23 267.08L677.43 267.08L668.83 283.08Z"/><path d="M676.07 282.50L693.27 282.50L684.67 298.50Z"/><path d="M691.90 299.25L709.10 299.25L700.50 315.25Z"/><path d="M707.73 317.49L724.93 317.49L716.33 333.49Z"/><path d="M723.57 337.36L740.77 337.36L732.17 353.36Z"/><path d="M739.40 359.08L756.60 359.08L748.00 375.08Z"/><path d="M755.23 382.93L772.43 382.93L763.83 398.93Z"/><path d="M771.07 409.25L788.27 409.25L779.67 425.25Z"/><path d="M786.90 438.36L804.10 438.36L795.50 454.36Z"/><path d="M802.73 470.59L819.93 470.59L811.33 486.59Z"/><path d="M818.57 506.25L835.77 506.25L827.17 522.25Z"/><path d="M834.40 545.68L851.60 545.68L843.00 561.68Z"/><path d="M850.23 588.81L867.43 588.81L858.83 604.81Z"/><path d="M866.07 634.39L883.27 634.39L874.67 650.39Z"/><path d="M881.90 680.95L899.10 680.95L890.50 696.95Z"/><path d="M897.73 727.01L914.93 727.01L906.33 743.01Z"/><path d="M913.57 771.04L930.77 771.04L922.17 787.04Z"/><path d="M929.40 811.24L946.60 811.24L938.00 827.24Z"/><path d="M945.23 845.79L962.43 845.79L953.83 861.79Z"/><path d="M961.07 873.47L978.27 873.47L969.67 889.47Z"/><path d="M976.90 894.86L994.10 894.86L985.50 910.86Z"/><path d="M992.73 910.92L1009.93 910.92L1001.33 926.92Z"/><path d="M1008.57 922.58L1025.77 922.58L1017.17 938.58Z"/><path d="M1024.40 930.78L1041.60 930.78L1033.00 946.78Z"/><path d="M1040.23 936.47L1057.43 936.47L1048.83 952.47Z"/><path d="M1056.07 940.58L1073.26 940.58L1064.66 956.58Z"/><path d="M1071.90 943.86L1089.10 943.86L1080.50 959.86Z"/><path d="M1087.73 946.50L1104.93 946.50L1096.33 962.50Z"/><path d="M1103.56 948.57L1120.76 948.57L1112.16 964.57Z"/><path d="M1119.40 950.12L1136.60 950.12L1128.00 966.12Z"/><path d="M1135.23 951.24L1152.43 951.24L1143.83 967.24Z"/><path d="M1151.06 951.99L1168.26 951.99L1159.66 967.99Z"/><path d="M1166.90 952.44L1184.10 952.44L1175.50 968.44Z"/><path d="M1182.73 952.67L1199.93 952.67L1191.33 968.67Z"/><path d="M1198.56 952.73L1215.76 952.73L1207.16 968.73Z"/><path d="M1214.40 952.71L1231.60 952.71L1223.00 968.71Z"/></g>
</g>
<line x1="760" y1="71" x2="913" y2="71" stroke="#000000" stroke-width="4.3" stroke-linecap="round"/><g fill="#000000"><rect x="829.40" y="63.10" width="14.20" height="15.80"/></g><text x="931.00" y="95.00" font-size="69.5" >TiN 0nm</text><line x1="760" y1="155" x2="913" y2="155" stroke="#ff0000" stroke-width="4.3" stroke-linecap="round"/><g fill="#ff0000"><ellipse cx="836.50" cy="155.00" rx="7.0" ry="7.9"/></g><text x="931.00" y="179.00" font-size="69.5" >TiN  nm</text><path d="M1077.67 179.00L1077.67 138.65C1074.68 141.33 1070.27 143.37 1065.52 143.77L1065.52 140.69C1071.97 139.97 1076.72 136.58 1079.64 131.18L1084.46 131.18L1084.46 179.00Z"/><line x1="760" y1="239.5" x2="913" y2="239.5" stroke="#0000ff" stroke-width="4.3" stroke-linecap="round"/><g fill="#0000ff"><path d="M836.50 230.90L845.10 246.70L827.90 246.70Z"/></g><text x="931.00" y="263.50" font-size="69.5" >TiN 2nm</text><line x1="760" y1="324" x2="913" y2="324" stroke="#008080" stroke-width="4.3" stroke-linecap="round"/><g fill="#008080"><path d="M827.90 319.20L845.10 319.20L836.50 335.20Z"/></g><text x="931.00" y="348.00" font-size="69.5" >TiN 3nm</text>
<text x="552.00" y="1139.50" font-size="77" >Voltage (V)</text>
<text transform="translate(79.5,752) rotate(-90)" font-size="77">C<tspan font-size="44" dy="31">ox</tspan><tspan dy="-31">(</tspan><tspan font-size="70" dx="2">μ</tspan><tspan dx="2.5">F/cm</tspan><tspan font-size="46" dy="-40">2</tspan><tspan dy="40">)</tspan></text>
</g>
</svg></body></html>
